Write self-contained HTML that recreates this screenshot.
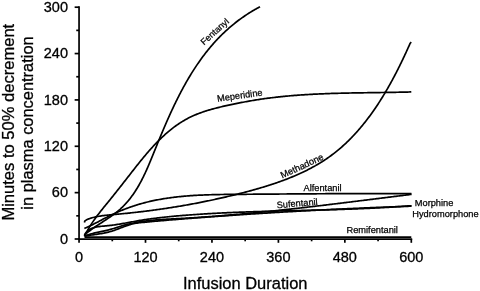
<!DOCTYPE html>
<html><head><meta charset="utf-8"><style>
html,body{margin:0;padding:0;background:#fff;}
body{width:480px;height:291px;overflow:hidden;}
svg{display:block;font-family:"Liberation Sans",Arial,sans-serif;}
.c path{fill:none;stroke:#000;stroke-width:1.7;}
.ax line{stroke:#000;stroke-width:1.7;}
.yl text{font-size:14.5px;text-anchor:end;stroke:#000;stroke-width:0.3px;}
.xl text{font-size:14.5px;text-anchor:middle;stroke:#000;stroke-width:0.3px;}
.tt{stroke:#000;stroke-width:0.3px;}
.lb{font-size:9.25px;stroke:#000;stroke-width:0.25px;}
</style></head><body>
<svg width="480" height="291" viewBox="0 0 480 291">
<g class="ax"><line x1="79.05" y1="6.35" x2="79.05" y2="239.90"/><line x1="78.15" y1="239.10" x2="412.20" y2="239.10" style="stroke-width:1.8"/><line x1="74.65" y1="239.00" x2="79.05" y2="239.00"/><line x1="76.25" y1="215.82" x2="79.05" y2="215.82"/><line x1="74.65" y1="192.64" x2="79.05" y2="192.64"/><line x1="76.25" y1="169.46" x2="79.05" y2="169.46"/><line x1="74.65" y1="146.28" x2="79.05" y2="146.28"/><line x1="76.25" y1="123.10" x2="79.05" y2="123.10"/><line x1="74.65" y1="99.92" x2="79.05" y2="99.92"/><line x1="76.25" y1="76.74" x2="79.05" y2="76.74"/><line x1="74.65" y1="53.56" x2="79.05" y2="53.56"/><line x1="76.25" y1="30.38" x2="79.05" y2="30.38"/><line x1="74.65" y1="7.20" x2="79.05" y2="7.20"/><line x1="79.05" y1="239.00" x2="79.05" y2="242.80"/><line x1="112.28" y1="239.00" x2="112.28" y2="241.30"/><line x1="145.50" y1="239.00" x2="145.50" y2="242.80"/><line x1="178.72" y1="239.00" x2="178.72" y2="241.30"/><line x1="211.95" y1="239.00" x2="211.95" y2="242.80"/><line x1="245.18" y1="239.00" x2="245.18" y2="241.30"/><line x1="278.40" y1="239.00" x2="278.40" y2="242.80"/><line x1="311.62" y1="239.00" x2="311.62" y2="241.30"/><line x1="344.85" y1="239.00" x2="344.85" y2="242.80"/><line x1="378.07" y1="239.00" x2="378.07" y2="241.30"/><line x1="411.30" y1="239.00" x2="411.30" y2="242.80"/></g>
<g class="c"><path d="M84.70 236.20 L85.19 235.14 L85.71 234.04 L86.24 232.95 L86.79 231.88 L87.35 230.81 L87.92 229.76 L88.51 228.71 L89.11 227.67 L89.73 226.64 L90.35 225.62 L90.99 224.61 L91.64 223.60 L92.30 222.61 L92.97 221.61 L93.65 220.63 L94.33 219.65 L95.03 218.68 L95.73 217.71 L96.44 216.75 L97.15 215.80 L97.88 214.84 L98.60 213.89 L99.34 212.95 L100.07 212.01 L100.82 211.07 L101.56 210.14 L102.31 209.20 L103.06 208.27 L103.81 207.34 L104.57 206.41 L105.32 205.49 L106.08 204.56 L106.84 203.63 L107.59 202.71 L108.35 201.78 L109.10 200.85 L109.85 199.92 L110.60 198.99 L111.35 198.06 L112.10 197.13 L112.85 196.20 L113.60 195.27 L114.34 194.33 L115.09 193.40 L115.84 192.46 L116.58 191.53 L117.32 190.59 L118.07 189.65 L118.81 188.71 L119.55 187.77 L120.29 186.83 L121.04 185.88 L121.78 184.94 L122.52 183.99 L123.26 183.05 L124.00 182.10 L124.75 181.15 L125.49 180.20 L126.23 179.25 L126.97 178.29 L127.72 177.34 L128.46 176.38 L129.21 175.42 L129.95 174.47 L130.70 173.51 L131.44 172.55 L132.19 171.59 L132.94 170.63 L133.69 169.67 L134.44 168.71 L135.20 167.75 L135.95 166.79 L136.71 165.84 L137.47 164.88 L138.23 163.93 L138.99 162.97 L139.75 162.02 L140.52 161.07 L141.29 160.13 L142.06 159.18 L142.84 158.24 L143.61 157.30 L144.39 156.36 L145.18 155.43 L145.96 154.50 L146.75 153.57 L147.55 152.65 L148.34 151.73 L149.14 150.81 L149.94 149.90 L150.75 148.99 L151.56 148.09 L152.37 147.20 L153.19 146.30 L154.01 145.42 L154.84 144.54 L155.67 143.66 L156.51 142.79 L157.35 141.93 L158.19 141.07 L159.04 140.22 L159.90 139.37 L160.75 138.54 L161.62 137.71 L162.49 136.88 L163.36 136.07 L164.24 135.26 L165.13 134.46 L166.02 133.67 L166.92 132.88 L167.82 132.11 L168.73 131.34 L169.65 130.58 L170.57 129.83 L171.50 129.09 L172.43 128.36 L173.37 127.64 L174.32 126.93 L175.27 126.23 L176.24 125.54 L177.20 124.86 L178.18 124.19 L179.16 123.53 L180.15 122.88 L181.15 122.24 L182.15 121.62 L183.17 121.01 L184.19 120.40 L185.21 119.81 L186.25 119.23 L187.29 118.67 L188.35 118.12 L189.41 117.58 L190.48 117.05 L191.55 116.53 L192.64 116.03 L193.73 115.54 L194.83 115.07 L195.94 114.60 L197.05 114.15 L198.18 113.70 L199.30 113.27 L200.44 112.85 L201.58 112.44 L202.72 112.04 L203.88 111.65 L205.03 111.27 L206.19 110.89 L207.36 110.53 L208.53 110.17 L209.70 109.82 L210.88 109.48 L212.06 109.15 L213.24 108.83 L214.43 108.51 L215.62 108.20 L216.81 107.89 L218.00 107.59 L219.19 107.30 L220.39 107.01 L221.58 106.73 L222.78 106.45 L223.98 106.18 L225.18 105.91 L226.38 105.64 L227.57 105.38 L228.77 105.12 L229.97 104.86 L231.16 104.61 L232.35 104.36 L233.55 104.11 L234.74 103.86 L235.93 103.62 L237.12 103.38 L238.31 103.14 L239.50 102.91 L240.68 102.68 L241.87 102.45 L243.06 102.22 L244.24 102.00 L245.43 101.78 L246.61 101.56 L247.80 101.35 L248.98 101.14 L250.17 100.93 L251.35 100.73 L252.54 100.53 L253.72 100.33 L254.91 100.13 L256.09 99.94 L257.28 99.75 L258.46 99.57 L259.65 99.39 L260.84 99.21 L262.02 99.03 L263.21 98.86 L264.40 98.69 L265.59 98.53 L266.78 98.37 L267.97 98.21 L269.16 98.06 L270.35 97.90 L271.54 97.75 L272.74 97.61 L273.93 97.47 L275.12 97.33 L276.32 97.19 L277.51 97.05 L278.70 96.92 L279.90 96.80 L281.09 96.67 L282.29 96.55 L283.49 96.43 L284.68 96.31 L285.88 96.20 L287.08 96.08 L288.28 95.98 L289.47 95.87 L290.67 95.76 L291.87 95.66 L293.07 95.56 L294.27 95.47 L295.47 95.37 L296.67 95.28 L297.87 95.19 L299.07 95.10 L300.28 95.02 L301.48 94.93 L302.68 94.85 L303.88 94.78 L305.09 94.70 L306.29 94.62 L307.49 94.55 L308.70 94.48 L309.90 94.41 L311.10 94.35 L312.31 94.28 L313.51 94.22 L314.72 94.16 L315.92 94.10 L317.13 94.04 L318.34 93.98 L319.54 93.93 L320.75 93.88 L321.95 93.83 L323.16 93.78 L324.37 93.73 L325.57 93.68 L326.78 93.64 L327.99 93.59 L329.20 93.55 L330.40 93.51 L331.61 93.47 L332.82 93.43 L334.03 93.39 L335.23 93.36 L336.44 93.32 L337.65 93.29 L338.86 93.26 L340.07 93.23 L341.28 93.20 L342.49 93.17 L343.69 93.14 L344.90 93.11 L346.11 93.08 L347.32 93.06 L348.53 93.03 L349.74 93.01 L350.95 92.98 L352.16 92.96 L353.37 92.94 L354.58 92.92 L355.78 92.90 L356.99 92.88 L358.20 92.86 L359.41 92.84 L360.62 92.82 L361.83 92.80 L363.04 92.78 L364.25 92.76 L365.46 92.74 L366.67 92.73 L367.87 92.71 L369.08 92.69 L370.29 92.67 L371.50 92.66 L372.71 92.64 L373.92 92.62 L375.13 92.61 L376.33 92.59 L377.54 92.57 L378.75 92.56 L379.96 92.54 L381.16 92.52 L382.37 92.51 L383.58 92.49 L384.79 92.47 L385.99 92.45 L387.20 92.43 L388.41 92.41 L389.61 92.39 L390.82 92.37 L392.03 92.35 L393.23 92.33 L394.44 92.31 L395.64 92.29 L396.85 92.27 L398.05 92.24 L399.26 92.22 L400.46 92.19 L401.66 92.17 L402.87 92.14 L404.07 92.12 L405.27 92.09 L406.48 92.06 L407.68 92.03 L408.88 92.00 L410.08 91.96 L411.30 91.90"/><path d="M84.70 236.20 L84.93 234.71 L85.80 233.94 L86.69 233.18 L87.59 232.44 L88.52 231.70 L89.45 230.98 L90.41 230.26 L91.37 229.55 L92.35 228.84 L93.33 228.14 L94.33 227.45 L95.34 226.76 L96.35 226.08 L97.37 225.40 L98.39 224.72 L99.42 224.04 L100.45 223.36 L101.49 222.68 L102.52 222.01 L103.56 221.33 L104.59 220.65 L105.62 219.96 L106.65 219.28 L107.68 218.59 L108.70 217.89 L109.72 217.20 L110.73 216.49 L111.74 215.78 L112.73 215.06 L113.72 214.34 L114.70 213.61 L115.66 212.87 L116.62 212.12 L117.56 211.36 L118.49 210.59 L119.40 209.81 L120.30 209.02 L121.18 208.21 L122.05 207.40 L122.90 206.57 L123.74 205.73 L124.56 204.89 L125.37 204.03 L126.17 203.16 L126.95 202.28 L127.72 201.40 L128.47 200.50 L129.22 199.59 L129.95 198.67 L130.67 197.75 L131.38 196.81 L132.07 195.87 L132.76 194.92 L133.43 193.96 L134.09 192.99 L134.75 192.02 L135.39 191.03 L136.02 190.04 L136.64 189.04 L137.26 188.04 L137.86 187.02 L138.46 186.00 L139.04 184.98 L139.62 183.95 L140.19 182.91 L140.76 181.86 L141.31 180.81 L141.86 179.76 L142.40 178.70 L142.94 177.63 L143.47 176.56 L143.99 175.48 L144.51 174.40 L145.02 173.32 L145.52 172.23 L146.02 171.13 L146.52 170.03 L147.01 168.93 L147.50 167.83 L147.98 166.72 L148.46 165.61 L148.94 164.50 L149.41 163.38 L149.88 162.26 L150.35 161.14 L150.82 160.02 L151.28 158.89 L151.75 157.76 L152.21 156.64 L152.67 155.51 L153.13 154.38 L153.58 153.24 L154.04 152.11 L154.50 150.98 L154.96 149.85 L155.42 148.71 L155.88 147.58 L156.34 146.45 L156.80 145.31 L157.26 144.18 L157.72 143.05 L158.19 141.91 L158.65 140.78 L159.12 139.65 L159.59 138.52 L160.05 137.39 L160.52 136.26 L160.99 135.12 L161.47 134.00 L161.94 132.87 L162.41 131.74 L162.89 130.61 L163.37 129.48 L163.85 128.36 L164.33 127.23 L164.81 126.11 L165.30 124.98 L165.78 123.86 L166.27 122.74 L166.76 121.62 L167.25 120.50 L167.75 119.38 L168.24 118.27 L168.74 117.15 L169.24 116.04 L169.74 114.93 L170.25 113.82 L170.75 112.71 L171.26 111.60 L171.78 110.49 L172.29 109.39 L172.81 108.28 L173.33 107.18 L173.85 106.08 L174.37 104.99 L174.90 103.89 L175.43 102.80 L175.96 101.71 L176.50 100.62 L177.04 99.53 L177.58 98.44 L178.13 97.36 L178.68 96.28 L179.23 95.20 L179.78 94.12 L180.34 93.05 L180.90 91.98 L181.47 90.91 L182.03 89.84 L182.60 88.78 L183.18 87.71 L183.76 86.66 L184.34 85.60 L184.93 84.55 L185.52 83.50 L186.11 82.45 L186.71 81.40 L187.31 80.36 L187.91 79.32 L188.52 78.29 L189.14 77.25 L189.75 76.22 L190.38 75.20 L191.00 74.17 L191.63 73.15 L192.27 72.14 L192.91 71.12 L193.55 70.11 L194.20 69.11 L194.85 68.11 L195.51 67.11 L196.17 66.11 L196.83 65.12 L197.50 64.13 L198.18 63.15 L198.86 62.17 L199.55 61.19 L200.24 60.22 L200.93 59.25 L201.63 58.28 L202.34 57.32 L203.05 56.36 L203.76 55.41 L204.49 54.46 L205.21 53.52 L205.94 52.58 L206.68 51.65 L207.43 50.71 L208.17 49.79 L208.93 48.87 L209.69 47.95 L210.45 47.04 L211.22 46.13 L212.00 45.22 L212.78 44.32 L213.57 43.43 L214.37 42.54 L215.17 41.66 L215.97 40.78 L216.79 39.90 L217.61 39.03 L218.43 38.17 L219.26 37.31 L220.10 36.46 L220.95 35.61 L221.80 34.76 L222.65 33.93 L223.52 33.09 L224.39 32.27 L225.26 31.44 L226.15 30.63 L227.04 29.82 L227.94 29.01 L228.84 28.21 L229.75 27.42 L230.67 26.63 L231.59 25.85 L232.53 25.07 L233.46 24.30 L234.41 23.54 L235.36 22.78 L236.33 22.03 L237.29 21.28 L238.27 20.54 L239.25 19.80 L240.24 19.08 L241.24 18.35 L242.25 17.64 L243.26 16.93 L244.28 16.23 L245.31 15.53 L246.35 14.84 L247.39 14.16 L248.44 13.48 L249.50 12.81 L250.57 12.15 L251.65 11.49 L252.73 10.85 L253.82 10.20 L254.92 9.57 L256.03 8.94 L257.15 8.32 L258.28 7.70 L259.41 7.10 L260.00 6.70"/><path d="M84.40 228.50 L85.43 227.89 L86.53 227.43 L87.64 226.95 L88.73 226.46 L89.82 225.96 L90.91 225.44 L91.99 224.92 L93.07 224.39 L94.14 223.85 L95.21 223.30 L96.28 222.75 L97.35 222.19 L98.42 221.63 L99.48 221.06 L100.55 220.50 L101.62 219.93 L102.68 219.37 L103.75 218.80 L104.82 218.24 L105.89 217.69 L106.97 217.13 L108.04 216.59 L109.12 216.05 L110.21 215.52 L111.30 214.99 L112.39 214.47 L113.48 213.96 L114.58 213.45 L115.68 212.95 L116.78 212.46 L117.89 211.98 L118.99 211.50 L120.11 211.03 L121.22 210.57 L122.34 210.11 L123.46 209.66 L124.58 209.22 L125.71 208.79 L126.83 208.36 L127.96 207.94 L129.10 207.53 L130.23 207.13 L131.37 206.73 L132.51 206.34 L133.65 205.96 L134.79 205.59 L135.94 205.23 L137.09 204.87 L138.24 204.52 L139.39 204.18 L140.54 203.85 L141.70 203.52 L142.85 203.20 L144.01 202.89 L145.17 202.59 L146.33 202.29 L147.50 202.01 L148.66 201.73 L149.83 201.45 L151.00 201.19 L152.17 200.93 L153.34 200.67 L154.51 200.43 L155.69 200.19 L156.87 199.95 L158.04 199.73 L159.22 199.51 L160.40 199.29 L161.59 199.09 L162.77 198.89 L163.95 198.69 L165.14 198.50 L166.33 198.32 L167.52 198.14 L168.71 197.97 L169.90 197.80 L171.09 197.64 L172.28 197.48 L173.48 197.33 L174.67 197.18 L175.87 197.04 L177.07 196.91 L178.26 196.78 L179.46 196.65 L180.66 196.53 L181.86 196.41 L183.07 196.30 L184.27 196.19 L185.47 196.09 L186.68 195.99 L187.88 195.89 L189.09 195.80 L190.30 195.71 L191.51 195.63 L192.71 195.55 L193.92 195.47 L195.13 195.40 L196.34 195.33 L197.56 195.26 L198.77 195.20 L199.98 195.14 L201.19 195.08 L202.40 195.03 L203.62 194.98 L204.83 194.93 L206.05 194.88 L207.26 194.84 L208.48 194.80 L209.69 194.76 L210.91 194.73 L212.12 194.69 L213.34 194.66 L214.56 194.63 L215.77 194.61 L216.99 194.58 L218.21 194.56 L219.42 194.54 L220.64 194.51 L221.86 194.50 L223.08 194.48 L224.29 194.46 L225.51 194.45 L226.73 194.43 L227.94 194.42 L229.16 194.41 L230.38 194.39 L231.59 194.38 L232.81 194.37 L234.03 194.36 L235.24 194.35 L236.46 194.35 L237.67 194.34 L238.89 194.33 L240.10 194.32 L241.32 194.31 L242.53 194.30 L243.75 194.29 L244.96 194.29 L246.17 194.28 L247.39 194.27 L248.60 194.26 L249.81 194.25 L251.02 194.24 L252.23 194.23 L253.45 194.22 L254.66 194.21 L255.87 194.21 L257.08 194.20 L258.29 194.19 L259.50 194.18 L260.71 194.17 L261.92 194.16 L263.13 194.15 L264.33 194.14 L265.54 194.13 L266.75 194.12 L267.96 194.11 L269.17 194.11 L270.37 194.10 L271.58 194.09 L272.79 194.08 L273.99 194.07 L275.20 194.06 L276.41 194.05 L277.61 194.04 L278.82 194.03 L280.03 194.02 L281.23 194.01 L282.44 194.01 L283.64 194.00 L284.85 193.99 L286.05 193.98 L287.26 193.97 L288.46 193.96 L289.67 193.95 L290.87 193.94 L292.07 193.94 L293.28 193.93 L294.48 193.92 L295.69 193.91 L296.89 193.90 L298.09 193.89 L299.30 193.88 L300.50 193.88 L301.70 193.87 L302.91 193.86 L304.11 193.85 L305.31 193.84 L306.52 193.84 L307.72 193.83 L308.92 193.82 L310.13 193.81 L311.33 193.80 L312.53 193.80 L313.73 193.79 L314.94 193.78 L316.14 193.78 L317.34 193.77 L318.55 193.76 L319.75 193.75 L320.95 193.75 L322.15 193.74 L323.36 193.73 L324.56 193.73 L325.76 193.72 L326.97 193.71 L328.17 193.71 L329.37 193.70 L330.57 193.70 L331.78 193.69 L332.98 193.68 L334.18 193.68 L335.39 193.67 L336.59 193.67 L337.79 193.66 L339.00 193.66 L340.20 193.65 L341.40 193.65 L342.61 193.64 L343.81 193.64 L345.01 193.63 L346.22 193.63 L347.42 193.63 L348.63 193.62 L349.83 193.62 L351.04 193.61 L352.24 193.61 L353.45 193.61 L354.65 193.60 L355.86 193.60 L357.06 193.60 L358.27 193.60 L359.47 193.59 L360.68 193.59 L361.88 193.59 L363.09 193.59 L364.30 193.59 L365.50 193.58 L366.71 193.58 L367.92 193.58 L369.12 193.58 L370.33 193.58 L371.54 193.58 L372.75 193.58 L373.96 193.58 L375.16 193.58 L376.37 193.58 L377.58 193.58 L378.79 193.58 L380.00 193.58 L381.21 193.58 L382.42 193.58 L383.63 193.58 L384.84 193.59 L386.05 193.59 L387.26 193.59 L388.48 193.59 L389.69 193.60 L390.90 193.60 L392.11 193.60 L393.33 193.61 L394.54 193.61 L395.75 193.61 L396.97 193.62 L398.18 193.62 L399.39 193.63 L400.61 193.63 L401.82 193.64 L403.04 193.64 L404.26 193.65 L405.47 193.65 L406.69 193.66 L407.91 193.66 L409.12 193.67 L410.34 193.68 L411.50 193.60"/><path d="M84.40 222.40 L84.82 221.08 L85.73 220.39 L86.70 219.80 L87.71 219.29 L88.76 218.85 L89.84 218.46 L90.95 218.11 L92.07 217.79 L93.20 217.49 L94.34 217.21 L95.49 216.95 L96.65 216.70 L97.82 216.48 L98.99 216.26 L100.18 216.07 L101.37 215.89 L102.57 215.71 L103.77 215.56 L104.98 215.41 L106.19 215.27 L107.41 215.13 L108.63 215.01 L109.85 214.89 L111.07 214.77 L112.30 214.66 L113.52 214.55 L114.75 214.44 L115.97 214.33 L117.20 214.22 L118.42 214.11 L119.64 213.99 L120.86 213.88 L122.08 213.76 L123.30 213.64 L124.51 213.52 L125.73 213.40 L126.94 213.28 L128.15 213.16 L129.36 213.03 L130.58 212.90 L131.78 212.77 L132.99 212.64 L134.20 212.51 L135.41 212.37 L136.61 212.24 L137.81 212.10 L139.02 211.96 L140.22 211.82 L141.42 211.68 L142.62 211.54 L143.82 211.39 L145.01 211.24 L146.21 211.10 L147.41 210.95 L148.60 210.79 L149.80 210.64 L150.99 210.48 L152.18 210.33 L153.37 210.17 L154.57 210.01 L155.76 209.85 L156.94 209.68 L158.13 209.52 L159.32 209.35 L160.51 209.18 L161.69 209.01 L162.88 208.84 L164.07 208.66 L165.25 208.49 L166.43 208.31 L167.62 208.13 L168.80 207.95 L169.98 207.77 L171.16 207.58 L172.34 207.40 L173.52 207.21 L174.70 207.02 L175.88 206.83 L177.06 206.63 L178.24 206.44 L179.42 206.24 L180.59 206.04 L181.77 205.84 L182.95 205.64 L184.12 205.43 L185.30 205.23 L186.48 205.02 L187.65 204.81 L188.83 204.60 L190.00 204.38 L191.18 204.17 L192.35 203.95 L193.52 203.73 L194.70 203.51 L195.87 203.29 L197.04 203.06 L198.22 202.84 L199.39 202.61 L200.56 202.38 L201.74 202.14 L202.91 201.91 L204.08 201.67 L205.25 201.44 L206.43 201.20 L207.60 200.95 L208.77 200.71 L209.94 200.46 L211.11 200.22 L212.29 199.97 L213.46 199.71 L214.63 199.46 L215.80 199.20 L216.98 198.95 L218.15 198.69 L219.32 198.42 L220.50 198.16 L221.67 197.89 L222.84 197.63 L224.02 197.36 L225.19 197.08 L226.36 196.81 L227.54 196.53 L228.71 196.26 L229.89 195.98 L231.06 195.69 L232.24 195.41 L233.42 195.12 L234.59 194.84 L235.77 194.55 L236.95 194.25 L238.12 193.96 L239.30 193.66 L240.48 193.36 L241.66 193.06 L242.84 192.76 L244.02 192.45 L245.20 192.15 L246.38 191.84 L247.56 191.52 L248.74 191.21 L249.92 190.89 L251.09 190.57 L252.27 190.25 L253.45 189.92 L254.63 189.59 L255.81 189.26 L256.99 188.93 L258.16 188.59 L259.34 188.25 L260.51 187.90 L261.69 187.55 L262.86 187.20 L264.03 186.85 L265.20 186.49 L266.37 186.13 L267.54 185.76 L268.71 185.39 L269.88 185.02 L271.04 184.64 L272.20 184.26 L273.36 183.88 L274.52 183.49 L275.68 183.10 L276.84 182.70 L277.99 182.30 L279.14 181.89 L280.29 181.48 L281.44 181.07 L282.58 180.65 L283.73 180.23 L284.87 179.80 L286.00 179.36 L287.14 178.93 L288.27 178.48 L289.40 178.04 L290.53 177.58 L291.65 177.12 L292.77 176.66 L293.89 176.19 L295.01 175.72 L296.12 175.24 L297.23 174.76 L298.33 174.27 L299.44 173.77 L300.54 173.27 L301.63 172.76 L302.72 172.25 L303.81 171.73 L304.89 171.20 L305.97 170.67 L307.05 170.14 L308.12 169.59 L309.19 169.05 L310.25 168.49 L311.31 167.93 L312.37 167.36 L313.42 166.79 L314.46 166.20 L315.51 165.62 L316.54 165.02 L317.57 164.42 L318.60 163.81 L319.63 163.20 L320.64 162.57 L321.66 161.95 L322.66 161.31 L323.67 160.67 L324.66 160.02 L325.65 159.36 L326.64 158.69 L327.62 158.02 L328.60 157.34 L329.57 156.65 L330.53 155.96 L331.49 155.25 L332.44 154.54 L333.39 153.82 L334.33 153.10 L335.27 152.36 L336.20 151.62 L337.12 150.88 L338.04 150.12 L338.95 149.36 L339.86 148.59 L340.76 147.81 L341.66 147.03 L342.55 146.24 L343.44 145.44 L344.32 144.64 L345.19 143.83 L346.06 143.01 L346.93 142.19 L347.78 141.36 L348.64 140.53 L349.49 139.68 L350.33 138.84 L351.17 137.98 L352.00 137.12 L352.83 136.26 L353.65 135.39 L354.47 134.51 L355.28 133.63 L356.09 132.74 L356.89 131.85 L357.69 130.95 L358.48 130.04 L359.27 129.13 L360.05 128.22 L360.83 127.30 L361.60 126.38 L362.37 125.45 L363.14 124.51 L363.90 123.57 L364.65 122.63 L365.40 121.68 L366.14 120.73 L366.88 119.77 L367.62 118.81 L368.35 117.84 L369.08 116.87 L369.80 115.90 L370.52 114.92 L371.23 113.94 L371.94 112.95 L372.64 111.96 L373.34 110.97 L374.04 109.97 L374.73 108.97 L375.41 107.96 L376.10 106.95 L376.77 105.94 L377.45 104.93 L378.12 103.91 L378.78 102.89 L379.45 101.86 L380.10 100.84 L380.76 99.81 L381.41 98.78 L382.05 97.74 L382.69 96.70 L383.33 95.66 L383.96 94.62 L384.59 93.57 L385.22 92.52 L385.84 91.47 L386.46 90.42 L387.07 89.37 L387.68 88.31 L388.29 87.25 L388.89 86.19 L389.49 85.13 L390.08 84.07 L390.67 83.00 L391.26 81.93 L391.85 80.87 L392.43 79.80 L393.00 78.72 L393.58 77.65 L394.15 76.58 L394.71 75.50 L395.28 74.43 L395.84 73.35 L396.39 72.27 L396.95 71.20 L397.50 70.12 L398.04 69.04 L398.58 67.96 L399.12 66.88 L399.66 65.80 L400.19 64.71 L400.73 63.63 L401.25 62.55 L401.78 61.47 L402.30 60.39 L402.82 59.31 L403.33 58.23 L403.84 57.14 L404.35 56.06 L404.86 54.98 L405.36 53.90 L405.86 52.82 L406.36 51.75 L406.85 50.67 L407.34 49.59 L407.83 48.51 L408.32 47.44 L408.80 46.36 L409.28 45.29 L409.76 44.22 L410.24 43.15 L411.30 42.20"/><path d="M84.70 236.20 L84.72 234.54 L85.37 233.49 L86.08 232.53 L86.85 231.67 L87.67 230.90 L88.53 230.20 L89.45 229.59 L90.40 229.04 L91.39 228.56 L92.42 228.13 L93.48 227.76 L94.57 227.44 L95.69 227.17 L96.82 226.93 L97.98 226.72 L99.16 226.54 L100.35 226.39 L101.56 226.26 L102.77 226.14 L104.00 226.03 L105.22 225.92 L106.45 225.82 L107.68 225.70 L108.90 225.58 L110.12 225.45 L111.34 225.31 L112.55 225.15 L113.76 224.99 L114.97 224.82 L116.17 224.65 L117.37 224.46 L118.57 224.27 L119.77 224.08 L120.96 223.88 L122.15 223.67 L123.34 223.46 L124.53 223.25 L125.71 223.03 L126.90 222.81 L128.08 222.60 L129.27 222.38 L130.45 222.16 L131.63 221.94 L132.81 221.72 L134.00 221.50 L135.18 221.29 L136.36 221.07 L137.54 220.87 L138.73 220.66 L139.91 220.46 L141.09 220.27 L142.28 220.08 L143.47 219.89 L144.65 219.70 L145.84 219.53 L147.03 219.35 L148.22 219.18 L149.41 219.01 L150.60 218.85 L151.79 218.69 L152.98 218.53 L154.17 218.37 L155.36 218.22 L156.56 218.08 L157.75 217.93 L158.94 217.79 L160.14 217.65 L161.33 217.52 L162.53 217.38 L163.72 217.25 L164.92 217.13 L166.11 217.00 L167.31 216.88 L168.51 216.76 L169.70 216.64 L170.90 216.52 L172.10 216.41 L173.30 216.30 L174.49 216.19 L175.69 216.08 L176.89 215.97 L178.09 215.87 L179.29 215.77 L180.49 215.67 L181.69 215.57 L182.89 215.47 L184.08 215.37 L185.28 215.28 L186.48 215.18 L187.68 215.09 L188.88 215.00 L190.08 214.91 L191.28 214.82 L192.48 214.73 L193.68 214.65 L194.88 214.56 L196.08 214.48 L197.28 214.40 L198.48 214.32 L199.68 214.24 L200.89 214.16 L202.09 214.08 L203.29 214.01 L204.49 213.93 L205.69 213.86 L206.89 213.79 L208.09 213.72 L209.29 213.65 L210.49 213.58 L211.70 213.51 L212.90 213.44 L214.10 213.38 L215.30 213.31 L216.50 213.25 L217.70 213.19 L218.91 213.13 L220.11 213.07 L221.31 213.01 L222.51 212.95 L223.72 212.89 L224.92 212.84 L226.12 212.78 L227.32 212.72 L228.53 212.67 L229.73 212.62 L230.93 212.57 L232.13 212.51 L233.34 212.46 L234.54 212.41 L235.74 212.37 L236.95 212.32 L238.15 212.27 L239.35 212.22 L240.56 212.18 L241.76 212.13 L242.96 212.09 L244.17 212.04 L245.37 212.00 L246.57 211.96 L247.78 211.92 L248.98 211.88 L250.19 211.84 L251.39 211.80 L252.59 211.76 L253.80 211.72 L255.00 211.68 L256.21 211.64 L257.41 211.60 L258.61 211.57 L259.82 211.53 L261.02 211.50 L262.23 211.46 L263.43 211.43 L264.63 211.39 L265.84 211.36 L267.04 211.32 L268.25 211.29 L269.45 211.26 L270.66 211.22 L271.86 211.19 L273.07 211.16 L274.27 211.13 L275.48 211.10 L276.68 211.07 L277.88 211.04 L279.09 211.01 L280.29 210.98 L281.50 210.95 L282.70 210.92 L283.91 210.89 L285.11 210.86 L286.32 210.83 L287.52 210.80 L288.73 210.77 L289.93 210.74 L291.14 210.71 L292.34 210.68 L293.55 210.65 L294.75 210.63 L295.96 210.60 L297.16 210.57 L298.37 210.54 L299.57 210.51 L300.78 210.48 L301.98 210.45 L303.19 210.42 L304.39 210.40 L305.60 210.37 L306.80 210.34 L308.01 210.31 L309.21 210.28 L310.41 210.25 L311.62 210.22 L312.82 210.19 L314.03 210.16 L315.23 210.13 L316.44 210.10 L317.64 210.07 L318.85 210.04 L320.05 210.01 L321.26 209.98 L322.46 209.94 L323.67 209.91 L324.87 209.88 L326.08 209.85 L327.28 209.81 L328.49 209.78 L329.69 209.75 L330.90 209.71 L332.10 209.68 L333.30 209.64 L334.51 209.61 L335.71 209.57 L336.92 209.53 L338.12 209.50 L339.33 209.46 L340.53 209.42 L341.74 209.38 L342.94 209.34 L344.14 209.30 L345.35 209.26 L346.55 209.22 L347.76 209.18 L348.96 209.14 L350.16 209.09 L351.37 209.05 L352.57 209.01 L353.78 208.96 L354.98 208.92 L356.18 208.87 L357.39 208.82 L358.59 208.77 L359.79 208.73 L361.00 208.68 L362.20 208.63 L363.40 208.58 L364.61 208.52 L365.81 208.47 L367.01 208.42 L368.22 208.36 L369.42 208.31 L370.62 208.25 L371.83 208.19 L373.03 208.13 L374.23 208.08 L375.44 208.02 L376.64 207.95 L377.84 207.89 L379.04 207.83 L380.25 207.76 L381.45 207.70 L382.65 207.63 L383.85 207.57 L385.05 207.50 L386.26 207.43 L387.46 207.36 L388.66 207.28 L389.86 207.21 L391.06 207.14 L392.27 207.06 L393.47 206.99 L394.67 206.91 L395.87 206.83 L397.07 206.75 L398.27 206.67 L399.47 206.58 L400.67 206.50 L401.88 206.41 L403.08 206.33 L404.28 206.24 L405.48 206.15 L406.68 206.06 L407.88 205.97 L409.08 205.87 L410.28 205.78 L411.50 205.90"/><path d="M84.70 236.20 L85.80 235.66 L86.93 235.22 L88.07 234.81 L89.21 234.44 L90.36 234.09 L91.52 233.76 L92.68 233.46 L93.85 233.18 L95.02 232.91 L96.19 232.65 L97.37 232.40 L98.54 232.15 L99.72 231.91 L100.90 231.66 L102.07 231.41 L103.25 231.15 L104.42 230.89 L105.59 230.61 L106.76 230.34 L107.93 230.05 L109.10 229.75 L110.27 229.44 L111.43 229.12 L112.59 228.79 L113.75 228.44 L114.90 228.08 L116.06 227.72 L117.21 227.34 L118.36 226.96 L119.51 226.59 L120.67 226.22 L121.82 225.87 L122.98 225.52 L124.14 225.19 L125.30 224.88 L126.46 224.57 L127.63 224.28 L128.80 223.99 L129.97 223.72 L131.14 223.46 L132.31 223.21 L133.48 222.97 L134.66 222.74 L135.84 222.51 L137.02 222.30 L138.20 222.10 L139.38 221.90 L140.57 221.72 L141.75 221.54 L142.94 221.37 L144.12 221.21 L145.31 221.05 L146.50 220.91 L147.70 220.77 L148.89 220.63 L150.08 220.50 L151.28 220.38 L152.47 220.26 L153.67 220.15 L154.87 220.05 L156.07 219.95 L157.27 219.85 L158.47 219.76 L159.67 219.67 L160.87 219.58 L162.07 219.50 L163.27 219.42 L164.48 219.35 L165.68 219.27 L166.88 219.20 L168.09 219.14 L169.29 219.07 L170.50 219.00 L171.70 218.94 L172.91 218.88 L174.11 218.81 L175.32 218.75 L176.52 218.69 L177.73 218.63 L178.94 218.56 L180.14 218.50 L181.35 218.44 L182.55 218.37 L183.76 218.30 L184.96 218.24 L186.17 218.17 L187.37 218.10 L188.58 218.03 L189.78 217.95 L190.99 217.88 L192.19 217.81 L193.40 217.73 L194.60 217.66 L195.80 217.58 L197.01 217.50 L198.21 217.42 L199.42 217.35 L200.62 217.27 L201.82 217.18 L203.03 217.10 L204.23 217.02 L205.43 216.93 L206.64 216.85 L207.84 216.76 L209.04 216.68 L210.25 216.59 L211.45 216.50 L212.65 216.41 L213.85 216.32 L215.06 216.23 L216.26 216.14 L217.46 216.05 L218.66 215.95 L219.87 215.86 L221.07 215.76 L222.27 215.67 L223.47 215.57 L224.67 215.47 L225.88 215.38 L227.08 215.28 L228.28 215.18 L229.48 215.08 L230.68 214.97 L231.88 214.87 L233.08 214.77 L234.28 214.67 L235.49 214.56 L236.69 214.46 L237.89 214.35 L239.09 214.24 L240.29 214.14 L241.49 214.03 L242.69 213.92 L243.89 213.81 L245.09 213.70 L246.29 213.59 L247.49 213.48 L248.69 213.36 L249.89 213.25 L251.09 213.14 L252.29 213.02 L253.49 212.91 L254.69 212.79 L255.89 212.68 L257.09 212.56 L258.29 212.44 L259.49 212.32 L260.69 212.20 L261.89 212.08 L263.09 211.96 L264.29 211.84 L265.48 211.72 L266.68 211.60 L267.88 211.48 L269.08 211.36 L270.28 211.23 L271.48 211.11 L272.68 210.98 L273.88 210.86 L275.07 210.73 L276.27 210.61 L277.47 210.48 L278.67 210.35 L279.87 210.22 L281.07 210.10 L282.27 209.97 L283.46 209.84 L284.66 209.71 L285.86 209.58 L287.06 209.45 L288.26 209.31 L289.45 209.18 L290.65 209.05 L291.85 208.92 L293.05 208.78 L294.24 208.65 L295.44 208.52 L296.64 208.38 L297.84 208.25 L299.04 208.11 L300.23 207.98 L301.43 207.84 L302.63 207.70 L303.82 207.57 L305.02 207.43 L306.22 207.29 L307.42 207.15 L308.61 207.01 L309.81 206.87 L311.01 206.73 L312.21 206.60 L313.40 206.45 L314.60 206.31 L315.80 206.17 L316.99 206.03 L318.19 205.89 L319.39 205.75 L320.58 205.61 L321.78 205.47 L322.98 205.32 L324.17 205.18 L325.37 205.04 L326.57 204.89 L327.76 204.75 L328.96 204.61 L330.16 204.46 L331.35 204.32 L332.55 204.17 L333.75 204.03 L334.94 203.88 L336.14 203.74 L337.34 203.59 L338.53 203.44 L339.73 203.30 L340.93 203.15 L342.12 203.00 L343.32 202.86 L344.52 202.71 L345.71 202.56 L346.91 202.42 L348.11 202.27 L349.30 202.12 L350.50 201.97 L351.69 201.82 L352.89 201.68 L354.09 201.53 L355.28 201.38 L356.48 201.23 L357.68 201.08 L358.87 200.93 L360.07 200.78 L361.26 200.64 L362.46 200.49 L363.66 200.34 L364.85 200.19 L366.05 200.04 L367.25 199.89 L368.44 199.74 L369.64 199.59 L370.83 199.44 L372.03 199.29 L373.23 199.14 L374.42 198.99 L375.62 198.84 L376.82 198.69 L378.01 198.54 L379.21 198.39 L380.40 198.24 L381.60 198.09 L382.80 197.94 L383.99 197.79 L385.19 197.64 L386.39 197.49 L387.58 197.34 L388.78 197.19 L389.97 197.04 L391.17 196.89 L392.37 196.74 L393.56 196.59 L394.76 196.44 L395.96 196.29 L397.15 196.14 L398.35 195.99 L399.55 195.85 L400.74 195.70 L401.94 195.55 L403.14 195.40 L404.33 195.25 L405.53 195.10 L406.73 194.95 L407.92 194.80 L409.12 194.66 L410.32 194.51 L411.50 194.30"/><path d="M84.70 236.20 L85.88 235.99 L87.07 235.78 L88.26 235.58 L89.45 235.38 L90.64 235.20 L91.83 235.02 L93.03 234.84 L94.23 234.67 L95.42 234.49 L96.62 234.31 L97.82 234.13 L99.01 233.94 L100.20 233.75 L101.39 233.54 L102.58 233.32 L103.76 233.10 L104.94 232.85 L106.12 232.60 L107.29 232.33 L108.46 232.05 L109.63 231.75 L110.79 231.43 L111.94 231.10 L113.09 230.74 L114.24 230.37 L115.38 229.97 L116.51 229.56 L117.64 229.14 L118.77 228.71 L119.90 228.27 L121.02 227.83 L122.15 227.40 L123.28 226.96 L124.41 226.54 L125.54 226.12 L126.67 225.72 L127.81 225.33 L128.95 224.96 L130.09 224.61 L131.24 224.29 L132.40 223.98 L133.56 223.71 L134.73 223.46 L135.91 223.25 L137.09 223.07 L138.28 222.91 L139.48 222.77 L140.67 222.64 L141.87 222.52 L143.07 222.40 L144.27 222.28 L145.47 222.16 L146.67 222.05 L147.87 221.93 L149.07 221.82 L150.27 221.71 L151.47 221.59 L152.67 221.48 L153.87 221.37 L155.08 221.27 L156.28 221.16 L157.48 221.05 L158.68 220.94 L159.88 220.84 L161.08 220.73 L162.29 220.63 L163.49 220.53 L164.69 220.42 L165.89 220.32 L167.09 220.22 L168.30 220.12 L169.50 220.02 L170.70 219.92 L171.90 219.82 L173.11 219.72 L174.31 219.62 L175.51 219.53 L176.71 219.43 L177.92 219.33 L179.12 219.24 L180.32 219.14 L181.53 219.04 L182.73 218.95 L183.93 218.85 L185.14 218.76 L186.34 218.66 L187.54 218.57 L188.74 218.48 L189.95 218.38 L191.15 218.29 L192.35 218.20 L193.56 218.10 L194.76 218.01 L195.96 217.92 L197.16 217.83 L198.37 217.74 L199.57 217.64 L200.77 217.55 L201.98 217.46 L203.18 217.37 L204.38 217.28 L205.59 217.19 L206.79 217.10 L207.99 217.02 L209.19 216.93 L210.40 216.84 L211.60 216.75 L212.80 216.66 L214.01 216.58 L215.21 216.49 L216.41 216.40 L217.62 216.31 L218.82 216.23 L220.02 216.14 L221.22 216.06 L222.43 215.97 L223.63 215.89 L224.83 215.80 L226.04 215.72 L227.24 215.63 L228.44 215.55 L229.65 215.47 L230.85 215.38 L232.05 215.30 L233.26 215.22 L234.46 215.14 L235.66 215.05 L236.87 214.97 L238.07 214.89 L239.27 214.81 L240.48 214.73 L241.68 214.65 L242.88 214.57 L244.09 214.49 L245.29 214.41 L246.49 214.33 L247.70 214.25 L248.90 214.17 L250.10 214.09 L251.31 214.02 L252.51 213.94 L253.71 213.86 L254.92 213.78 L256.12 213.71 L257.32 213.63 L258.53 213.55 L259.73 213.48 L260.93 213.40 L262.14 213.33 L263.34 213.25 L264.54 213.18 L265.75 213.10 L266.95 213.03 L268.15 212.96 L269.36 212.88 L270.56 212.81 L271.77 212.74 L272.97 212.66 L274.17 212.59 L275.38 212.52 L276.58 212.45 L277.78 212.37 L278.99 212.30 L280.19 212.23 L281.39 212.16 L282.60 212.09 L283.80 212.02 L285.01 211.95 L286.21 211.88 L287.41 211.81 L288.62 211.74 L289.82 211.68 L291.02 211.61 L292.23 211.54 L293.43 211.47 L294.64 211.40 L295.84 211.34 L297.04 211.27 L298.25 211.20 L299.45 211.14 L300.66 211.07 L301.86 211.00 L303.06 210.94 L304.27 210.87 L305.47 210.81 L306.68 210.74 L307.88 210.68 L309.08 210.62 L310.29 210.55 L311.49 210.49 L312.70 210.43 L313.90 210.36 L315.11 210.30 L316.31 210.24 L317.51 210.17 L318.72 210.11 L319.92 210.05 L321.13 209.99 L322.33 209.93 L323.54 209.87 L324.74 209.81 L325.94 209.75 L327.15 209.69 L328.35 209.63 L329.56 209.57 L330.76 209.51 L331.97 209.45 L333.17 209.39 L334.37 209.33 L335.58 209.28 L336.78 209.22 L337.99 209.16 L339.19 209.10 L340.40 209.05 L341.60 208.99 L342.81 208.93 L344.01 208.88 L345.22 208.82 L346.42 208.77 L347.63 208.71 L348.83 208.66 L350.04 208.60 L351.24 208.55 L352.45 208.49 L353.65 208.44 L354.85 208.39 L356.06 208.33 L357.26 208.28 L358.47 208.23 L359.67 208.17 L360.88 208.12 L362.08 208.07 L363.29 208.02 L364.49 207.97 L365.70 207.92 L366.91 207.87 L368.11 207.81 L369.32 207.76 L370.52 207.71 L371.73 207.66 L372.93 207.61 L374.14 207.57 L375.34 207.52 L376.55 207.47 L377.75 207.42 L378.96 207.37 L380.16 207.32 L381.37 207.27 L382.57 207.23 L383.78 207.18 L384.98 207.13 L386.19 207.09 L387.40 207.04 L388.60 206.99 L389.81 206.95 L391.01 206.90 L392.22 206.86 L393.42 206.81 L394.63 206.77 L395.84 206.72 L397.04 206.68 L398.25 206.63 L399.45 206.59 L400.66 206.55 L401.86 206.50 L403.07 206.46 L404.28 206.42 L405.48 206.37 L406.69 206.33 L407.89 206.29 L409.10 206.25 L410.31 206.21 L411.50 206.00"/><path d="M84.5 237.1 L411.3 237.1" style="stroke-width:1.8"/></g>
<g class="yl"><text x="68" y="243.70">0</text><text x="68" y="197.34">60</text><text x="68" y="150.98">120</text><text x="68" y="104.62">180</text><text x="68" y="58.26">240</text><text x="68" y="11.90">300</text></g>
<g class="xl"><text x="79.05" y="262">0</text><text x="145.50" y="262">120</text><text x="211.95" y="262">240</text><text x="278.40" y="262">360</text><text x="344.85" y="262">480</text><text x="411.30" y="262">600</text></g>
<g transform="translate(245.2,289.3) scale(0.97,1)"><text class="tt" x="0" y="0" font-size="17" text-anchor="middle">Infusion Duration</text></g>
<g transform="translate(14.1,122.2) rotate(-90) scale(0.974,1)"><text class="tt" x="0" y="0" font-size="17" text-anchor="middle">Minutes to 50% decrement</text></g>
<g transform="translate(32.6,123.0) rotate(-90) scale(0.966,1)"><text class="tt" x="0" y="0" font-size="17" text-anchor="middle">in plasma concentration</text></g>
<g class="lb">
<text transform="translate(204.0,45.4) rotate(-42)" font-size="9.0">Fentanyl</text>
<text transform="translate(217.5,101.8) rotate(-8)">Meperidine</text>
<text transform="translate(282.3,178.6) rotate(-25)">Methadone</text>
<text x="303.5" y="190.9">Alfentanil</text>
<text transform="translate(276.9,208.2) rotate(-4.8)">Sufentanil</text>
<text x="414.8" y="206.4">Morphine</text>
<text x="412.3" y="216.9">Hydromorphone</text>
<text x="346.5" y="233.3">Remifentanil</text>
</g>
</svg>
</body></html>
